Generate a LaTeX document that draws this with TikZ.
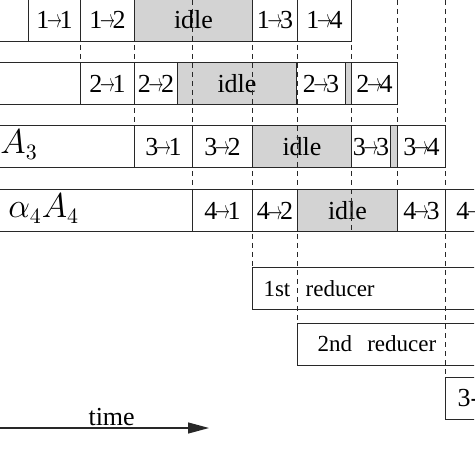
\documentclass[tikz,border=0pt]{standalone}
\usepackage{fontspec}
\setmainfont{Liberation Serif}
\usetikzlibrary{arrows.meta}
\definecolor{idlegray}{RGB}{211, 211, 211}
\definecolor{inkgray}{RGB}{40, 40, 40}
\newcommand{\mto}[2]{#1\kern-1.2pt\raisebox{0.3pt}{\scalebox{0.62}[1.05]{$\rightarrow$}}\kern-1.2pt#2}

\begin{document}
\begin{tikzpicture}[
        x=0.5pt, y=-0.5pt,
        taskbox/.style={rectangle, draw=inkgray, fill=white, line width=0.5pt, anchor=west, inner sep=0pt, minimum height=21pt, minimum width=#1*0.5pt, font=\fontsize{13}{15}\selectfont},
        toprow/.style={minimum height=22pt},
        idlebox/.style={fill=idlegray},
        redbox/.style={rectangle, draw=inkgray, fill=white, line width=0.5pt, anchor=west, minimum height=21pt, text width=150pt, align=left, inner ysep=0pt, inner xsep=#1, font=\fontsize{11.5}{14}\selectfont},
        rowlabel/.style={anchor=base west, inner sep=0pt, font=\fontsize{16}{19}\selectfont},
        guide/.style={draw=inkgray, line width=0.5pt, dash pattern=on 2.5pt off 2pt},
        timeline/.style={draw=inkgray, line width=0.6pt, -{Triangle[length=10.5pt, width=5.5pt]}}
    ]
        \useasboundingbox (0,0) rectangle (474,474);
        \clip (0,0) rectangle (474,474);

        % first row
        \node[taskbox=48, toprow] (m1) at (-20,20) {};
        \node[taskbox=52, toprow] (t11) at (28,20) {\mto{1}{1}};
        \node[taskbox=54, toprow] (t12) at (80,20) {\mto{1}{2}};
        \node[taskbox=118, toprow, idlebox] (i1) at (134,20) {idle};
        \node[taskbox=45, toprow] (t13) at (252,20) {\mto{1}{3}};
        \node[taskbox=54, toprow] (t14) at (297,20) {\mto{1}{4}};

        % second row
        \node[taskbox=100] (m2) at (-20,84) {};
        \node[taskbox=54] (t21) at (80,84) {\mto{2}{1}};
        \node[taskbox=43] (t22) at (134,84) {\mto{2}{2}};
        \node[taskbox=119, idlebox] (i2) at (177,84) {idle};
        \node[taskbox=49] (t23) at (296,84) {\mto{2}{3}};
        \node[taskbox=6, idlebox] (s2) at (345,84) {};
        \node[taskbox=46] (t24) at (351,84) {\mto{2}{4}};

        % third row
        \node[taskbox=154] (m3) at (-20,147) {};
        \node[rowlabel] (l3) at (0,154) {$A_3$};
        \node[taskbox=58] (t31) at (134,147) {\mto{3}{1}};
        \node[taskbox=60] (t32) at (192,147) {\mto{3}{2}};
        \node[taskbox=99, idlebox] (i3) at (252,147) {idle};
        \node[taskbox=39] (t33) at (351,147) {\mto{3}{3}};
        \node[taskbox=7, idlebox] (s3) at (390,147) {};
        \node[taskbox=48] (t34) at (397,147) {\mto{3}{4}};

        % fourth row
        \node[taskbox=212] (m4) at (-20,211) {};
        \node[rowlabel] (l4) at (8,218) {$\alpha_4A_4$};
        \node[taskbox=60] (t41) at (192,211) {\mto{4}{1}};
        \node[taskbox=45] (t42) at (252,211) {\mto{4}{2}};
        \node[taskbox=100, idlebox] (i4) at (297,211) {idle};
        \node[taskbox=48] (t43) at (397,211) {\mto{4}{3}};
        \node[taskbox=58] (t44) at (445,211) {\mto{4}{4}};

        % reducers
        \node[redbox=5.5pt] (r1) at (252,289) {1st~~reducer};
        \node[redbox=10pt] (r2) at (297,344) {2nd~~reducer};
        \node[redbox=6pt, font=\fontsize{13}{15}\selectfont] (r3) at (445,398) {3-};

        % guides
        \draw[guide] (80,0) -- (80,63);
        \draw[guide] (134,0) -- (134,126);
        \draw[guide] (192,0) -- (192,190);
        \draw[guide] (252,0) -- (252,268);
        \draw[guide] (297,0) -- (297,323);
        \draw[guide] (351,0) -- (351,232);
        \draw[guide] (397,0) -- (397,190);
        \draw[guide] (445,0) -- (445,377);

        % time axis
        \coordinate (tstart) at (-5,428);
        \coordinate (tend) at (209,428);
        \draw[timeline] (tstart) -- node[pos=0.545, above, inner sep=1pt, font=\fontsize{13}{15}\selectfont] (tlabel) {time} (tend);
    \end{tikzpicture}
\end{document}
